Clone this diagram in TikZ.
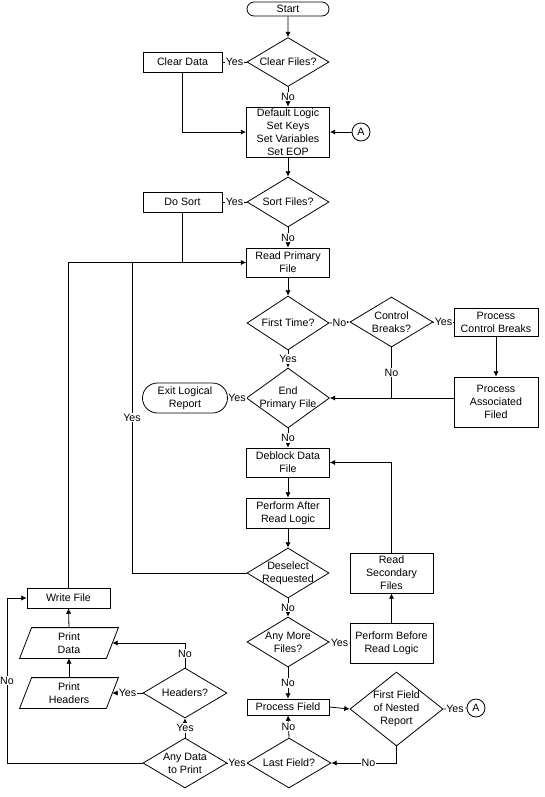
\documentclass[tikz,border=0pt]{standalone}
\usepackage{fontspec}
\setmainfont{Liberation Sans}
\usetikzlibrary{arrows.meta,shapes.geometric,shapes.misc,calc}
\begin{document}
\begin{tikzpicture}[x=0.75pt,y=-0.75pt,
  every node/.style={font=\fontsize{8}{9.75}\selectfont},
  line width=0.6pt,
  wh/.style 2 args={minimum width=#1*0.75pt, minimum height=#2*0.75pt},
  box/.style={draw, rectangle, inner sep=0pt, align=center},
  dia/.style={draw, diamond, inner sep=-8pt, align=center, shape aspect=1.6},
  term/.style={draw, rounded rectangle, inner sep=0pt, align=center},
  pbox/.style={rectangle, inner sep=0pt, align=center},
  conn/.style={draw, circle, inner sep=0pt, minimum size=18*0.75pt},
  arr/.style={-{Latex[length=4pt,width=4pt]}},
  lbl/.style={fill=white, inner sep=0.6pt}]
\useasboundingbox (0,0) rectangle (544,797);

% nodes
\node[term, wh={82}{14}] (start) at (288,9) {Start};
\node[dia, wh={82}{49}] (cf) at (288,62) {Clear Files?};
\node[box, wh={79}{20}] (cd) at (182.5,62) {Clear Data};
\node[box, wh={83}{50}] (dl) at (288,132) {Default Logic\\Set Keys\\Set Variables\\Set EOP};
\node[conn] (a1) at (361,132) {A};
\node[dia, wh={82}{50}] (sf) at (288,202) {Sort Files?};
\node[box, wh={79}{20}] (ds) at (182.5,202) {Do Sort};
\node[box, wh={83}{29}] (rp) at (288,262.5) {Read Primary\\File};
\node[dia, wh={82}{54}] (ft) at (288,323) {First Time?};
\node[dia, wh={83}{50}] (cb) at (391.5,322) {Control\\Breaks?};
\node[box, wh={84}{28}] (pcb) at (496,322) {Process\\Control Breaks};
\node[box, wh={84}{50}] (paf) at (496,402) {Process\\Associated\\Filed};
\node[dia, wh={83}{60}] (ep) at (288,398) {End\\Primary File};
\node[term, wh={85}{30}] (exit) at (185,398) {Exit Logical\\Report};
\node[box, wh={83}{29}] (dd) at (288,462.5) {Deblock Data\\File};
\node[box, wh={83}{30}] (pa) at (288,513) {Perform After\\Read Logic};
\node[dia, wh={82}{50}] (dr) at (288,573) {Deselect\\Requested};
\node[box, wh={83}{40}] (rs) at (391.5,573) {Read\\Secondary\\Files};
\node[dia, wh={82}{50}] (am) at (288,642) {Any More\\Files?};
\node[box, wh={83}{40}] (pb) at (391.5,643) {Perform Before\\Read Logic};
\node[box, wh={82}{16}] (pf) at (288,707) {Process Field};
\node[dia, wh={93}{74}, shape aspect=1.26] (ff) at (396.5,709) {First Field\\of Nested\\Report};
\node[conn] (a2) at (476,708) {A};
\node[dia, wh={84}{50}] (lf) at (289,763) {Last Field?};
\node[dia, wh={84}{50}] (ad) at (185,763) {Any Data\\to Print};
\node[dia, wh={84}{50}] (hd) at (185,693) {Headers?};
\node[pbox, wh={86}{30}] (ph) at (69,693) {Print\\Headers};
\node[pbox, wh={86}{30}] (pd) at (69,643) {Print\\Data};
\node[box, wh={83}{20}] (wf) at (68.5,598) {Write File};
\coordinate (j1) at (132,262);
\coordinate (j2) at (7,763);

% parallelogram outlines
\foreach \n in {ph,pd}{
  \draw ($(\n.north west)+(6,0)$) -- ($(\n.north east)+(6,0)$) --
        ($(\n.south east)+(-6,0)$) -- ($(\n.south west)+(-6,0)$) -- cycle;
}

% connectors
\draw[arr] (start) -- (cf);
\draw (cf.west) -- node[lbl] (l1) {Yes} (cd.east);
\draw[arr] (cf.south) -- node[lbl] (l2) {No} (dl.north);
\draw[arr] (cd.south) |- (dl.west);
\draw[arr] (a1.west) -- (dl.east);
\draw[arr] (dl.south) -- (sf.north);
\draw (sf.west) -- node[lbl] (l3) {Yes} (ds.east);
\draw[arr] (sf.south) -- node[lbl] (l4) {No} (rp.north);
\draw (ds.south) -- (ds.south |- rp.west);
\draw[arr] (wf.north) |- (rp.west);
\draw (dr.west) -| node[lbl, pos=0.75] (l5) {Yes} (j1);
\draw[arr] (rp.south) -- (ft.north);
\draw[arr] (ft.east) -- node[lbl] (l6) {No} (cb.west);
\draw (cb.east) -- node[lbl] (l7) {Yes} (pcb.west);
\draw[arr] (pcb.south) -- (paf.north);
\draw[arr] (paf.west |- ep.east) -- (ep.east);
\draw (cb.south) -- node[lbl] (l8) {No} (cb.south |- ep.east);
\draw[arr] (ft.south) -- node[lbl] (l9) {Yes} (ep.north);
\draw (ep.west) -- node[lbl] (l10) {Yes} (exit.east);
\draw[arr] (ep.south) -- node[lbl] (l11) {No} (dd.north);
\draw[arr] (dd.south) -- (pa.north);
\draw[arr] (pa.south) -- (dr.north);
\draw[arr] (dr.south) -- node[lbl] (l12) {No} (am.north);
\draw (am.east) -- node[lbl] (l13) {Yes} (pb.west);
\draw[arr] (pb.north) -- (rs.south);
\draw[arr] (rs.north) |- (dd.east);
\draw[arr] (am.south) -- node[lbl] (l14) {No} (pf.north);
\draw[arr] (pf.east) -- (ff.west);
\draw (ff.east) -- node[lbl] (l15) {Yes} (a2.west);
\draw[arr] (ff.south) |- node[lbl, pos=0.715] (l16) {No} (lf.east);
\draw[arr] (lf.north) -- node[lbl] (l17) {No} (pf.south);
\draw (lf.west) -- node[lbl] (l18) {Yes} (ad.east);
\draw[arr] (ad.north) -- node[lbl] (l19) {Yes} (hd.south);
\draw[arr] (hd.west) -- node[lbl] (l20) {Yes} (ph.east);
\draw[arr] (hd.north) |- node[lbl, pos=0.28] (l21) {No} (pd.east);
\draw[arr] (ph.north) -- (pd.south);
\draw[arr] (pd.north) -- (wf.south);
\draw[arr] (ad.west) -- (j2) -- node[lbl] (l22) {No} (j2 |- wf.west) -- (wf.west);
\end{tikzpicture}
\end{document}
